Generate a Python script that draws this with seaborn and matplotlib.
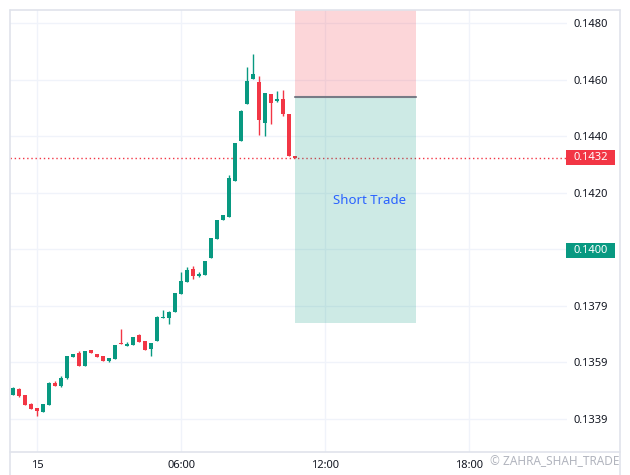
import matplotlib
matplotlib.use("Agg")
import matplotlib.pyplot as plt
import matplotlib.transforms as mtransforms
from matplotlib.lines import Line2D
from matplotlib.patches import Rectangle
import numpy as np
import pandas as pd
import seaborn as sns

# 15-min candles, bar index 4 == 00:00 on the 15th
opens = [0.13483, 0.13505, 0.13483, 0.13452, 0.13437, 0.13424, 0.13448, 0.13525,
         0.13516, 0.13543, 0.13619, 0.13633, 0.13587, 0.13643, 0.13628, 0.13622,
         0.13605, 0.13612, 0.13669, 0.13658, 0.13662, 0.13697, 0.13674, 0.13646,
         0.13676, 0.13757, 0.13757, 0.13779, 0.13842, 0.13885, 0.13929, 0.13905,
         0.13910, 0.13970, 0.14037, 0.14103, 0.14115, 0.14243, 0.14385, 0.14516,
         0.14604, 0.14593, 0.14448, 0.14550, 0.14525, 0.14532, 0.14479, 0.14331]
closes = [0.13509, 0.13481, 0.13448, 0.13434, 0.13428, 0.13452, 0.13527, 0.13516,
          0.13543, 0.13622, 0.13629, 0.13587, 0.13640, 0.13631, 0.13617, 0.13605,
          0.13615, 0.13661, 0.13665, 0.13665, 0.13689, 0.13671, 0.13644, 0.13668,
          0.13761, 0.13761, 0.13778, 0.13845, 0.13887, 0.13926, 0.13906, 0.13912,
          0.13958, 0.14040, 0.14104, 0.14121, 0.14252, 0.14377, 0.14490, 0.14596,
          0.14621, 0.14459, 0.14554, 0.14519, 0.14532, 0.14480, 0.14331, 0.14325]
highs = [0.13513, 0.13508, 0.13483, 0.13455, 0.13437, 0.13452, 0.13531, 0.13533,
         0.13551, 0.13622, 0.13629, 0.13639, 0.13640, 0.13643, 0.13628, 0.13622,
         0.13615, 0.13661, 0.13717, 0.13671, 0.13689, 0.13701, 0.13674, 0.13668,
         0.13764, 0.13785, 0.13781, 0.13845, 0.13919, 0.13937, 0.13940, 0.13919,
         0.13958, 0.14040, 0.14104, 0.14121, 0.14263, 0.14377, 0.14493, 0.14646,
         0.14692, 0.14614, 0.14554, 0.14550, 0.14561, 0.14564, 0.14479, 0.14331]
lows = [0.13483, 0.13477, 0.13448, 0.13434, 0.13410, 0.13424, 0.13448, 0.13516,
        0.13513, 0.13539, 0.13619, 0.13587, 0.13587, 0.13631, 0.13617, 0.13605,
        0.13600, 0.13612, 0.13665, 0.13658, 0.13662, 0.13671, 0.13644, 0.13623,
        0.13676, 0.13757, 0.13735, 0.13779, 0.13842, 0.13885, 0.13896, 0.13903,
        0.13910, 0.13970, 0.14037, 0.14103, 0.14115, 0.14243, 0.14385, 0.14516,
        0.14604, 0.14405, 0.14401, 0.14444, 0.14523, 0.14472, 0.14331, 0.14325]

last_price = 0.14325
target_label_price = 0.13995

# short position tool
entry_price = 0.14540
stop_price = 0.14855
target_price = 0.13739
trade_start, trade_end = 47, 67.2
trade_text_price = 0.14171

xtick_bars = [4, 28, 52, 76]
xtick_labels = ["15", "06:00", "12:00", "18:00"]
ytick_vals = [0.1480, 0.1460, 0.1440, 0.1420, 0.1400, 0.1380, 0.1360, 0.1340]
ytick_labels = ["0.1480", "0.1460", "0.1440", "0.1420", "", "0.1379", "0.1359", "0.1339"]

df = pd.DataFrame({"open": opens, "high": highs, "low": lows, "close": closes})
df["bar"] = np.arange(len(df))

green = "#089981"
red = "#f23645"
frame_c = "#e0e3eb"
grid_c = "#f0f3fa"
txt_c = "#131722"

sns.set_theme(style="white")
plt.rcParams["font.family"] = ["Noto Sans", "DejaVu Sans"]

W, H = 630, 475
fig = plt.figure(figsize=(W / 100, H / 100), dpi=100)
ax_l, ax_r, ax_t, ax_b = 10, 567, 10, 452
ax = fig.add_axes([ax_l / W, 1 - ax_b / H, (ax_r - ax_l) / W, (ax_b - ax_t) / H])

ymin, ymax = 0.132814, 0.148478
ax.set_xlim(-0.5, 92.33)
ax.set_ylim(ymin, ymax)

ax.set_xticks(xtick_bars, xtick_labels)
ax.set_yticks(ytick_vals, ytick_labels)
ax.yaxis.tick_right()
ax.grid(True, color=grid_c, lw=1)
ax.set_axisbelow(True)
ax.tick_params(axis="y", length=0, pad=5, labelsize=8, labelcolor=txt_c)
ax.tick_params(axis="x", length=0, pad=6, labelsize=8, labelcolor=txt_c)
for s in ax.spines.values():
    s.set_visible(False)

# candles
col = np.where(df["close"] >= df["open"], green, red)
ax.vlines(df["bar"], df["low"], df["high"], colors=col, lw=1, zorder=2)
ax.bar(df["bar"], df["close"] - df["open"], bottom=df["open"], width=0.72,
       color=col, lw=0, zorder=3)

# current price dotted line
ax.axhline(last_price, color=red, lw=1, ls=(0, (1, 2)), zorder=2)

# short position boxes
ax.add_patch(Rectangle((trade_start, entry_price), trade_end - trade_start,
                       stop_price - entry_price, fc=red, alpha=0.2, lw=0, zorder=4))
ax.add_patch(Rectangle((trade_start, target_price), trade_end - trade_start,
                       entry_price - target_price, fc=green, alpha=0.2, lw=0, zorder=4))
ax.plot([trade_start, trade_end], [entry_price, entry_price], color="#787b86",
        lw=1.5, zorder=5)
ax.text(trade_start + 6.3, trade_text_price, "Short Trade", color="#2962ff",
        fontsize=9.5, va="center", ha="left", zorder=6)

# price scale labels
blend = mtransforms.blended_transform_factory(fig.transFigure, ax.transData)
lab_h = 15.7 / (ax_b - ax_t) * (ymax - ymin)
for price, c, s in [(last_price, red, "0.1432"), (target_label_price, green, "0.1400")]:
    r = Rectangle((566 / W, price - lab_h / 2), 49 / W, lab_h, transform=blend,
                  fc=c, lw=0, clip_on=False, zorder=6)
    fig.add_artist(r)
    fig.text(590.5 / W, price, s, transform=blend, color="white", fontsize=8,
             fontweight="semibold", ha="center", va="center", zorder=7)

# pane frame
def fline(x0, y0, x1, y1):
    fig.add_artist(Line2D([x0 / W, x1 / W], [1 - y0 / H, 1 - y1 / H],
                          color=frame_c, lw=1.2))

fline(10, 10, 620, 10)
fline(10, 10, 10, 475)
fline(620, 10, 620, 475)
fline(10, 452, 620, 452)

fig.text(619 / W, 1 - 462 / H, "\u00a9 ZAHRA_SHAH_TRADE", color="#b2b5be",
         fontsize=8.5, ha="right", va="center")

fig.savefig("out.png", dpi=100)
